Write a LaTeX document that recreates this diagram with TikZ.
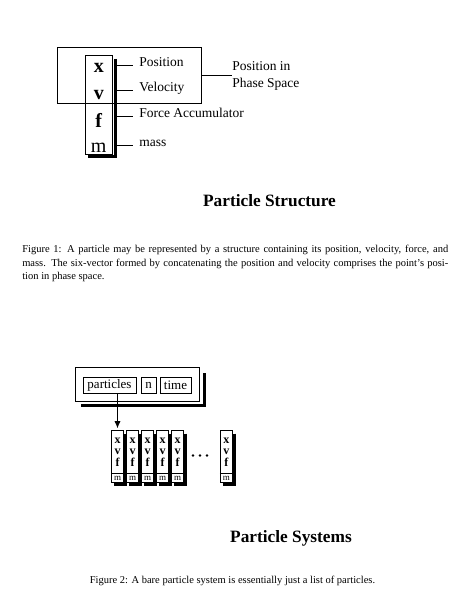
\documentclass[tikz,border=0pt]{standalone}
\usepackage{fontspec}
\setmainfont{Liberation Serif}
\usetikzlibrary{arrows.meta}
\begin{document}
\begin{tikzpicture}[x=1pt,y=-1pt,line width=0.6pt,
  lbl/.style={anchor=base west,inner sep=0,font=\fontsize{13.5}{16}\selectfont},
  bigletter/.style={anchor=base,inner sep=0,font=\bfseries\fontsize{20}{22}\selectfont},
  bigm/.style={anchor=base,inner sep=0,font=\fontsize{20}{22}\selectfont},
  smallletter/.style={anchor=base,inner sep=0,font=\bfseries\fontsize{12}{13}\selectfont},
  smallm/.style={anchor=base,inner sep=0,font=\fontsize{9}{10}\selectfont},
  box/.style={draw,inner sep=0,rectangle},
  shadowline/.style={line width=3pt},
  title/.style={anchor=base,inner sep=0,font=\bfseries\fontsize{17.3}{20}\selectfont},
  caption/.style={anchor=base west,inner sep=0,font=\fontsize{10.5}{13}\selectfont},
  fieldbox/.style={draw,inner sep=0,minimum height=16pt,font=\fontsize{13}{15}\selectfont}]
\useasboundingbox (0,0) rectangle (474,601);

% ---------- Particle structure ----------
\node[box,minimum width=144pt,minimum height=56pt] (phase) at (129,75) {};
\node[box,minimum width=27.5pt,minimum height=99pt] (col) at (98.75,104.5) {};
\draw[shadowline] (115,59) -- (115,158);
\draw[shadowline] (88,156.5) -- (116.5,156.5);

\node[bigletter] (lx) at (98.75,73) {x};
\node[bigletter] (lv) at (98.75,100) {v};
\node[bigletter] (lf) at (98.75,128) {f};
\node[bigm] (lm) at (98.75,153) {m};

\node[lbl] (pos) at (139,67) {Position};
\node[lbl] (vel) at (139,92) {Velocity};
\node[lbl] (frc) at (139,118) {Force Accumulator};
\node[lbl] (mas) at (139,147) {mass};
\foreach \n in {pos,vel,frc,mas}{
  \coordinate (e\n) at ([xshift=-6pt,yshift=2pt]\n.base west);
  \draw ([xshift=4pt]col.east |- e\n) -- (e\n);
}

\node[anchor=west,inner sep=0,align=left,font=\fontsize{13.5}{17}\selectfont] (psp) at (232,75.5) {Position in\\Phase Space};
\draw (phase.east) -- (phase.east -| psp.west);

\node[title] (t1) at (269.5,207) {Particle Structure};

\node[caption] (c1a) at (22,252) {\makebox[426pt][s]{Figure 1: A particle may be represented by a structure containing its position, velocity, force, and}};
\node[caption] (c1b) at (22,266) {\makebox[426pt][s]{mass. The six-vector formed by concatenating the position and velocity comprises the point's posi-}};
\node[caption] (c1c) at (22,279.5) {tion in phase space.};

% ---------- Particle system ----------
\node[box,minimum width=124pt,minimum height=34pt] (sys) at (137,384) {};
\draw[shadowline] (204,373) -- (204,407);
\draw[shadowline] (81,405.5) -- (205.5,405.5);

\node[fieldbox,minimum width=53pt] (particles) at (109.5,385) {particles};
\node[fieldbox,minimum width=15pt] (nn) at (148.5,385) {n};
\node[fieldbox,minimum width=31pt] (time) at (175.5,385) {time};

\foreach \i/\x in {1/117.5,2/132.5,3/147.5,4/162.5,5/177.5,6/226.25}{
  \node[box,minimum width=12pt,minimum height=52.5pt] (c\i) at (\x,456.25) {};
  \draw[shadowline] ([xshift=2pt,yshift=-4pt]c\i.north east) -- ([xshift=2pt,yshift=-3.5pt]c\i.south east);
  \draw[shadowline] ([xshift=3pt,yshift=-2pt]c\i.south west) -- ([xshift=3.5pt,yshift=-2pt]c\i.south east);
  \draw ([yshift=9.5pt]c\i.south west) -- ([yshift=9.5pt]c\i.south east);
  \node[smallletter] at (\x,443) {x};
  \node[smallletter] at (\x,454) {v};
  \node[smallletter] at (\x,466.5) {f};
  \node[smallm] at (\x,480.5) {m};
}
\foreach \d in {193,200,207}{
  \fill (\d,455.5) circle (1.4pt);
}

\draw[-{Latex[length=7pt,width=6pt]},shorten >=1.5pt] (c1.north |- particles.south) -- (c1.north);

\node[title] (t2) at (291,542) {Particle Systems};
\node[caption,anchor=base] (c2) at (232.5,583) {Figure 2: A bare particle system is essentially just a list of particles.};
\end{tikzpicture}
\end{document}
